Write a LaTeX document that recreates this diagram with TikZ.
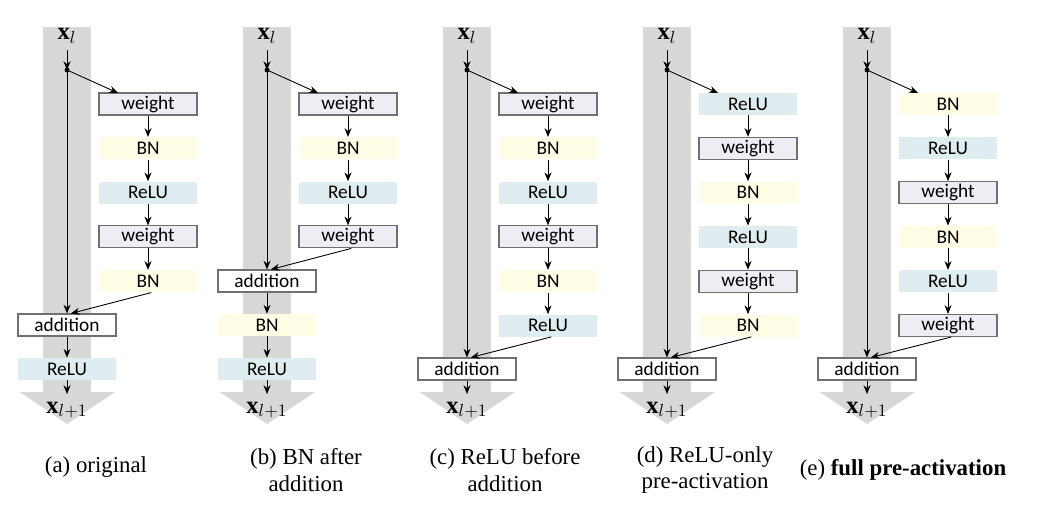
\documentclass[tikz,border=0pt]{standalone}
\usepackage{fontspec}
\setmainfont{Liberation Serif}
\newfontfamily\boxfont{Carlito}
\usetikzlibrary{arrows.meta}
\definecolor{band}{HTML}{D8D8D8}
\definecolor{wfill}{HTML}{EDEDF3}
\definecolor{bnfill}{HTML}{FFFDE6}
\definecolor{rfill}{HTML}{DFEDF1}
\definecolor{bord}{HTML}{707070}
\tikzset{
  rbbase/.style={minimum width=1.96cm,minimum height=0.44cm,inner sep=0pt,font=\boxfont\fontsize{11}{12}\selectfont},
  rbweight/.style={rbbase,fill=wfill,draw=bord,line width=0.6pt,node contents=weight},
  rbbn/.style={rbbase,fill=bnfill,node contents=BN},
  rbrelu/.style={rbbase,fill=rfill,node contents=ReLU},
  rbadd/.style={rbbase,fill=white,draw=bord,line width=0.6pt,node contents=addition},
  rbarr/.style={-{Stealth[length=5pt,width=4pt]},line width=0.5pt},
  rbcap/.style={font=\fontsize{13}{15}\selectfont,align=center},
  rbxl/.style={font=\fontsize{14}{15}\selectfont}
}
\begin{document}
\begin{tikzpicture}[x=0.02cm,y=-0.02cm]
\useasboundingbox (0,0) rectangle (1050,525);
\fill[white] (0,0) rectangle (1050,525);
% bands
\foreach \o/\p in {0/a,200/b,400/c,600/d,800/e}{
  \begin{scope}[shift={(\o,0)}]
  \fill[band] (43,27) rectangle (91,392);
  \fill[band] (20,392) -- (115,392) -- (67,424) -- cycle;
  \node[rbxl] (\p xin) at (67,36) {$\mathbf{x}_{l}$};
  \node[rbxl] (\p xout) at (67,410) {$\mathbf{x}_{l+1}$};
  \fill (67,70) circle (2.5) coordinate (\p dot);
  \draw[rbarr] (\p xin) -- (\p dot);
  \end{scope}
}
% (a)
\foreach \t [count=\i] in {rbweight,rbbn,rbrelu,rbweight,rbbn}
  \node (a\i) at (148,{104+44.3*(\i-1)}) [\t];
\foreach \i [evaluate=\i as \j using int(\i+1)] in {1,...,4} \draw[rbarr] (a\i) -- (a\j);
\node (aadd) at (67,325) [rbadd];
\node (ar) at (67,369) [rbrelu];
\draw[rbarr] (adot) -- ++(51,23);
\draw[rbarr] (adot) -- (aadd);
\draw[rbarr] ([xshift=30]a5.south west) -- ([xshift=-26]aadd.north east);
\draw[rbarr] (aadd) -- (ar);
\draw[rbarr] (ar) -- (67,394);
\node[rbcap] (acap) at (96,467) {(a) original};
% (b)
\begin{scope}[shift={(200,0)}]
\foreach \t [count=\i] in {rbweight,rbbn,rbrelu,rbweight}
  \node (b\i) at (148,{104+44.3*(\i-1)}) [\t];
\foreach \i [evaluate=\i as \j using int(\i+1)] in {1,...,3} \draw[rbarr] (b\i) -- (b\j);
\node (badd) at (67,281) [rbadd];
\node (bb) at (67,325) [rbbn];
\node (br) at (67,369) [rbrelu];
\draw[rbarr] (bdot) -- ++(51,23);
\draw[rbarr] (bdot) -- (badd);
\draw[rbarr] ([xshift=30]b4.south west) -- ([xshift=-26]badd.north east);
\draw[rbarr] (badd) -- (bb);
\draw[rbarr] (bb) -- (br);
\draw[rbarr] (br) -- (67,394);
\node[rbcap] (bcap) at (106,470) {(b) BN after\\addition};
\end{scope}
% (c)
\begin{scope}[shift={(400,0)}]
\foreach \t [count=\i] in {rbweight,rbbn,rbrelu,rbweight,rbbn,rbrelu}
  \node (c\i) at (148,{104+44.3*(\i-1)}) [\t];
\foreach \i [evaluate=\i as \j using int(\i+1)] in {1,...,5} \draw[rbarr] (c\i) -- (c\j);
\node (cadd) at (67,369) [rbadd];
\draw[rbarr] (cdot) -- ++(51,23);
\draw[rbarr] (cdot) -- (cadd);
\draw[rbarr] ([xshift=30]c6.south west) -- ([xshift=-26]cadd.north east);
\draw[rbarr] (cadd) -- (67,394);
\node[rbcap] (ccap) at (105,470) {(c) ReLU before\\addition};
\end{scope}
% (d)
\begin{scope}[shift={(600,0)}]
\foreach \t [count=\i] in {rbrelu,rbweight,rbbn,rbrelu,rbweight,rbbn}
  \node (d\i) at (148,{104+44.3*(\i-1)}) [\t];
\foreach \i [evaluate=\i as \j using int(\i+1)] in {1,...,5} \draw[rbarr] (d\i) -- (d\j);
\node (dadd) at (67,369) [rbadd];
\draw[rbarr] (ddot) -- ++(51,23);
\draw[rbarr] (ddot) -- (dadd);
\draw[rbarr] ([xshift=30]d6.south west) -- ([xshift=-26]dadd.north east);
\draw[rbarr] (dadd) -- (67,394);
\node[rbcap] (dcap) at (105,470) {(d) ReLU-only\\pre-activation};
\end{scope}
% (e)
\begin{scope}[shift={(800,0)}]
\foreach \t [count=\i] in {rbbn,rbrelu,rbweight,rbbn,rbrelu,rbweight}
  \node (e\i) at (148,{104+44.3*(\i-1)}) [\t];
\foreach \i [evaluate=\i as \j using int(\i+1)] in {1,...,5} \draw[rbarr] (e\i) -- (e\j);
\node (eadd) at (67,369) [rbadd];
\draw[rbarr] (edot) -- ++(51,23);
\draw[rbarr] (edot) -- (eadd);
\draw[rbarr] ([xshift=30]e6.south west) -- ([xshift=-26]eadd.north east);
\draw[rbarr] (eadd) -- (67,394);
\node[rbcap] (ecap) at (103,470) {(e) \textbf{full pre-activation}};
\end{scope}
\end{tikzpicture}
\end{document}
